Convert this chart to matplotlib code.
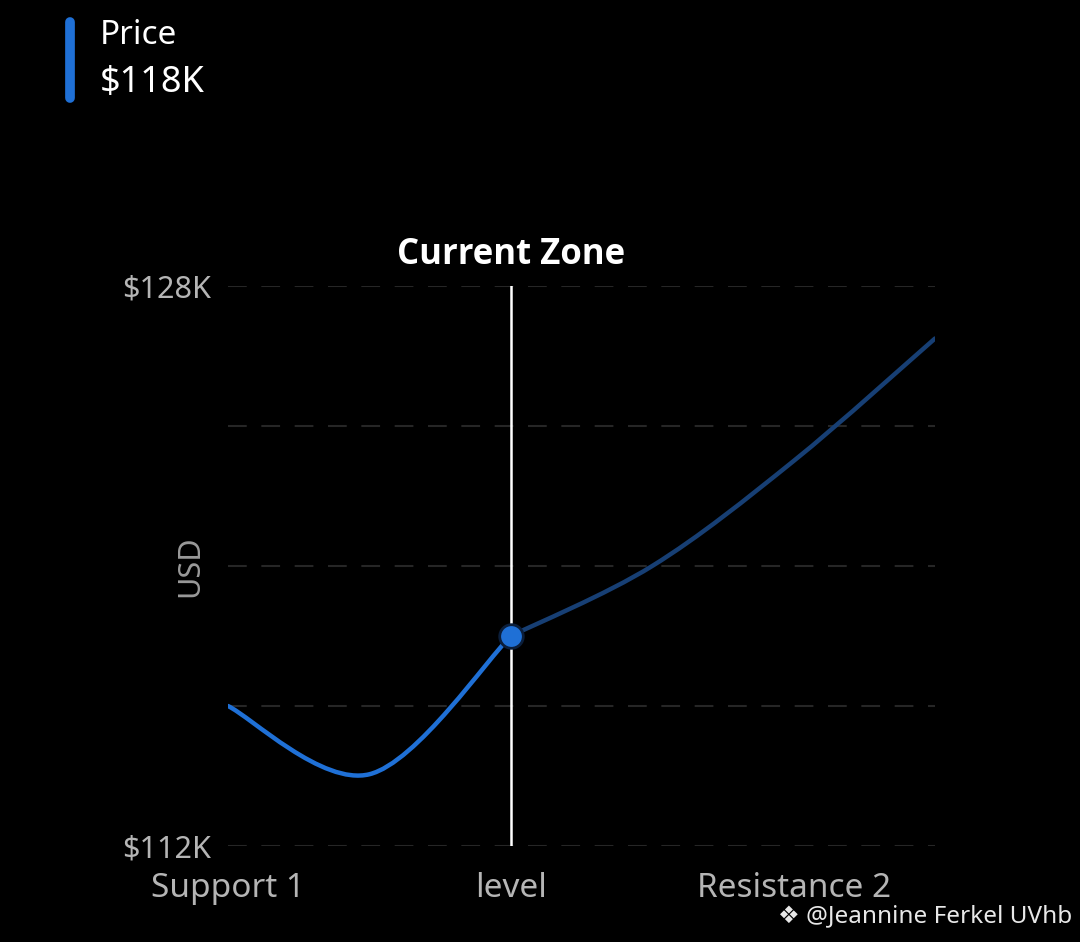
import matplotlib
matplotlib.use("Agg")
import matplotlib.pyplot as plt
from matplotlib.path import Path
from matplotlib.patches import PathPatch
from matplotlib.lines import Line2D
import numpy as np

plt.rcParams['font.family'] = ['Noto Sans', 'DejaVu Sans']

# price path (USD thousands), one value per step
prices = [116.0, 114.05, 118.0, 120.0, 123.0, 126.5]
current_idx = 2
tick_pos = [0, 2, 4]
tick_labels = ['Support 1', 'level', 'Resistance 2']
y_grid = [112, 116, 120, 124, 128]
y_labeled = [112, 128]
y_labeled_text = ['$112K', '$128K']

BRIGHT = '#1f70d6'
DIM = '#173f74'


def smooth_path(xs, ys):
    # catmull-rom segments as cubic bezier curves
    pts = np.column_stack([xs, ys])
    n = len(pts)
    verts = [pts[0]]
    codes = [Path.MOVETO]
    for i in range(n - 1):
        p0 = pts[max(i - 1, 0)]
        p1 = pts[i]
        p2 = pts[i + 1]
        p3 = pts[min(i + 2, n - 1)]
        verts += [p1 + (p2 - p0) / 6, p2 - (p3 - p1) / 6, p2]
        codes += [Path.CURVE4] * 3
    return Path(verts, codes)


fig = plt.figure(figsize=(10.8, 9.42), dpi=100, facecolor='black')
ax = fig.add_axes([228 / 1080, 96 / 942, 707 / 1080, 560 / 942])
ax.set_facecolor('black')

x = np.arange(len(prices))
ax.set_xlim(0, len(prices) - 1)
ax.set_ylim(112, 128)

for g in y_grid:
    ax.axhline(g, color='#262626', lw=1.5, dashes=(9, 7), zorder=1)

ax.axvline(current_idx, color='white', lw=1.8, zorder=3)

past = smooth_path(x[:current_idx + 1], prices[:current_idx + 1])
future = smooth_path(x[current_idx:], prices[current_idx:])
ax.add_patch(PathPatch(future, fill=False, edgecolor=DIM, lw=3.2,
                       capstyle='round', zorder=4))
ax.add_patch(PathPatch(past, fill=False, edgecolor=BRIGHT, lw=3.2,
                       capstyle='round', zorder=5))
ax.plot([current_idx], [prices[current_idx]], 'o', ms=17, color=BRIGHT,
        mec='#0b1e3a', mew=2, zorder=6)

ax.text(current_idx, 128.9, 'Current Zone', color='white', fontsize=25,
        fontweight='bold', family=['Open Sans', 'DejaVu Sans'],
        ha='center', va='center')

for s in ax.spines.values():
    s.set_visible(False)
ax.set_xticks(tick_pos)
ax.set_xticklabels(tick_labels)
ax.set_yticks(y_labeled)
ax.set_yticklabels(y_labeled_text)
ax.tick_params(axis='x', length=0, pad=19, labelsize=24, colors='#b5b5b5')
ax.tick_params(axis='y', length=0, pad=12, labelsize=22, colors='#b5b5b5')

fig.text(190 / 1080, 1 - 566 / 942, 'USD', rotation=90, color='#9a9a9a',
         fontsize=22, ha='center', va='center')

# legend block
fig.add_artist(Line2D([70 / 1080, 70 / 1080], [1 - 22 / 942, 1 - 98 / 942],
                      color=BRIGHT, lw=7, solid_capstyle='round'))
fig.text(100 / 1080, 1 - 35 / 942, 'Price', color='white', fontsize=24,
         ha='left', va='center')
fig.text(100 / 1080, 1 - 83 / 942, '$118K', color='white', fontsize=26,
         ha='left', va='center')

fig.text(1072 / 1080, 1 - 916 / 942, '❖ @Jeannine Ferkel UVhb', color='#e8e8e8',
         fontsize=17.5, ha='right', va='center')

fig.savefig('out.png', dpi=100, facecolor='black')
